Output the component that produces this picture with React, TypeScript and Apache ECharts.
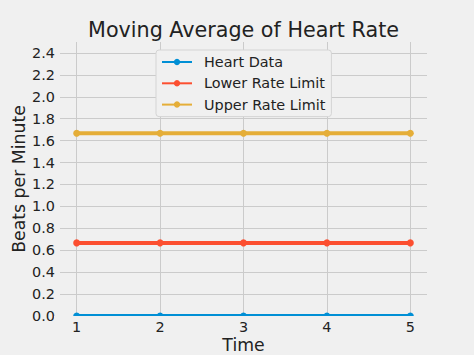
import React, { useEffect, useRef } from "react";
import * as echarts from "echarts";

const times = [1, 2, 3, 4, 5];
const heartData = [0, 0, 0, 0, 0];
const lowerLimit = [0.667, 0.667, 0.667, 0.667, 0.667];
const upperLimit = [1.667, 1.667, 1.667, 1.667, 1.667];
const yTicks = [0, 0.2, 0.4, 0.6, 0.8, 1.0, 1.2, 1.4, 1.6, 1.8, 2.0, 2.2, 2.4];
const seriesNames = ["Heart Data", "Lower Rate Limit", "Upper Rate Limit"];
const colors = ["#008fd5", "#fc4f30", "#e5ae38"];
const titleText = "Moving Average of Heart Rate";

const FONT = "DejaVu Sans";

export default function App() {
  const ref = useRef<HTMLDivElement>(null);
  useEffect(() => {
    document.body.style.margin = "0";
    const chart = echarts.init(ref.current!, null, { renderer: "svg" });
    const pairs = (ys: number[]) => times.map((t, i) => [t, ys[i]]);
    const line = (i: number, ys: number[]) => ({
      name: seriesNames[i],
      type: "line",
      data: pairs(ys),
      color: colors[i],
      symbol: "circle",
      symbolSize: 7,
      showAllSymbol: true,
      lineStyle: { width: 4 },
      itemStyle: { color: colors[i] },
    });
    chart.setOption({
      animation: false,
      backgroundColor: "#f0f0f0",
      textStyle: { fontFamily: FONT },
      legend: {
        orient: "vertical",
        left: 156,
        top: 50,
        padding: [5, 6, 5, 5],
        itemWidth: 30,
        itemHeight: 8,
        itemGap: 7.3,
        backgroundColor: "#f0f0f0",
        borderColor: "#d4d4d4",
        borderWidth: 1,
        borderRadius: 3,
        data: seriesNames,
        textStyle: { fontFamily: FONT, fontSize: 14.4, color: "#222", lineHeight: 14, padding: [0, 0, 0, 7] },
      },
      grid: { left: 60, right: 47, top: 42, bottom: 39, outerBoundsMode: "none", containLabel: false },
      xAxis: {
        type: "value",
        min: 0.8,
        max: 5.2,
        name: "Time",
        nameLocation: "middle",
        nameGap: 20,
        nameMoveOverlap: false,
        nameTextStyle: { fontFamily: FONT, fontSize: 17.3, color: "#222" },
        axisLine: { show: false },
        axisTick: { show: false, customValues: times },
        axisLabel: { customValues: times, margin: 4, fontFamily: FONT, fontSize: 14.4, color: "#222" },
        splitLine: { show: true, lineStyle: { color: "#cbcbcb", width: 1 } },
      },
      yAxis: {
        type: "value",
        min: 0,
        max: 2.5,
        name: "Beats per Minute",
        nameLocation: "middle",
        nameGap: 33,
        nameMoveOverlap: false,
        nameTextStyle: { fontFamily: FONT, fontSize: 17.3, color: "#222" },
        axisLine: { show: false },
        axisTick: { show: false, customValues: yTicks },
        axisLabel: {
          customValues: yTicks,
          margin: 5,
          fontFamily: FONT,
          fontSize: 14.4,
          color: "#222",
          formatter: (v: number) => v.toFixed(1),
        },
        splitLine: { show: true, lineStyle: { color: "#cbcbcb", width: 1 } },
      },
      series: [line(0, heartData), line(1, lowerLimit), line(2, upperLimit)],
    });
    const yZero = chart.convertToPixel({ yAxisIndex: 0 }, 0) as number;
    const xL = chart.convertToPixel({ xAxisIndex: 0 }, 0.8) as number;
    const xR = chart.convertToPixel({ xAxisIndex: 0 }, 5.2) as number;
    chart.setOption({
      graphic: [
        // mask below the plot bottom so the zero-valued series is clipped like in matplotlib
        {
          type: "rect",
          z: 100,
          silent: true,
          shape: { x: xL - 6, y: yZero, width: xR - xL + 12, height: 4 },
          style: { fill: "#f0f0f0" },
        },
        // title centred over the plot area
        {
          type: "text",
          z: 100,
          x: (xL + xR) / 2,
          y: 30,
          style: {
            text: titleText,
            fontFamily: FONT,
            fontSize: 20.7,
            fill: "#222",
            align: "center",
            verticalAlign: "middle",
          },
        },
      ],
    });
    return () => chart.dispose();
  }, []);
  return <div ref={ref} style={{ width: 474, height: 355 }} />;
}
